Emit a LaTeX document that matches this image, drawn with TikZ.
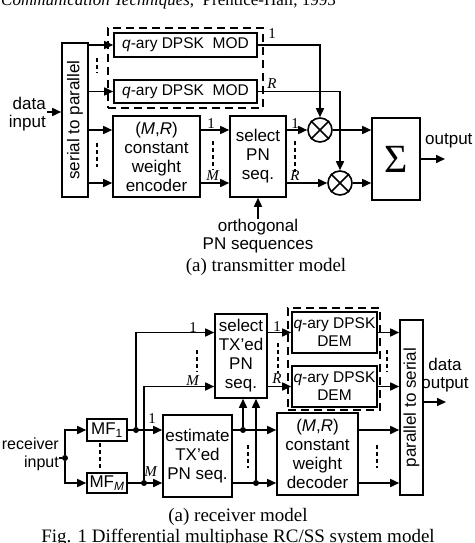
\documentclass[tikz,border=0pt]{standalone}
\usepackage{fontspec}
\setmainfont{Liberation Serif}
\setsansfont{Liberation Sans}
\usetikzlibrary{arrows.meta}
\begin{document}
\begin{tikzpicture}[x=1pt,y=-1pt,
  box/.style={draw,line width=1.6pt,font=\sffamily\fontsize{17}{19}\selectfont,align=center,inner sep=0pt},
  qbox/.style={box,font=\sffamily\fontsize{15.5}{18}\selectfont},
  txt/.style={font=\sffamily\fontsize{17}{18}\selectfont,align=center,inner sep=0pt},
  arr/.style={line width=1.6pt,-{Triangle[length=9pt,width=8pt]}},
  ln/.style={line width=1.6pt},
  dots/.style={line width=1.1pt,dash pattern=on 4pt off 3pt},
  grp/.style={draw,line width=1.6pt,dash pattern=on 8pt off 5pt,inner sep=0pt},
  lab/.style={font=\rmfamily\fontsize{15}{15}\selectfont,inner sep=0pt},
  captxt/.style={font=\rmfamily\fontsize{19}{19}\selectfont,inner sep=0pt},
  jdot/.style={circle,fill,inner sep=0pt,minimum size=6pt},
  mult/.style={draw,circle,line width=1.6pt,minimum size=24pt,inner sep=0pt}
]
\useasboundingbox (0,0) rectangle (474,543);

% header (cut off at top)
\node[anchor=base west,font=\rmfamily\fontsize{17}{17}\selectfont,inner sep=0pt] (hdr) at (1,6)
  {\textit{Communication Techniques},\ \ Prentice-Hall, 1993};

% ================= transmitter =================
\node[box,minimum width=26,minimum height=154] (s2p) at (75,120) {};
\node[txt,rotate=90] (s2pt) at (s2p.center) {serial to parallel};
\node[qbox,minimum width=143,minimum height=24] (mod1) at (185.5,45) {\textit{q}-ary DPSK\ \ MOD};
\node[qbox,minimum width=143,minimum height=23] (mod2) at (185.5,91.5) {\textit{q}-ary DPSK\ \ MOD};
\node[grp,minimum width=155,minimum height=80] (modgrp) at (185.5,68) {};
\node[box,minimum width=87,minimum height=81] (enc) at (156.5,156.5) {(\textit{M},\textit{R})\\constant\\weight\\encoder};
\node[box,minimum width=56,minimum height=81] (sel) at (258,156.5) {select\\PN\\seq.};
\node[mult] (m1) at (320,130) {};
\node[mult] (m2) at (340,183) {};
\node[box,minimum width=48,minimum height=82] (sum) at (396,159) {\rmfamily\fontsize{40}{40}\selectfont Σ};

\draw[ln] (m1.north east) -- (m1.south west) (m1.north west) -- (m1.south east);
\draw[ln] (m2.north east) -- (m2.south west) (m2.north west) -- (m2.south east);

\node[txt,anchor=east,align=right] (din) at (46,114) {data\\input};
\coordinate (dinA) at (47,112);
\draw[arr] (dinA) -- (dinA -| s2p.west);

\draw[arr] (s2p.east |- mod1.west) -- (mod1.west);
\draw[arr] (s2p.east |- mod2.west) -- (mod2.west);
\draw[arr] (s2p.east |- m1) -- (enc.west |- m1);
\draw[arr] (s2p.east |- m2) -- (enc.west |- m2);
\draw[arr] (enc.east |- m1) -- (sel.west |- m1);
\draw[arr] (enc.east |- m2) -- (sel.west |- m2);
\draw[arr] (sel.east |- m1) -- (m1.west);
\draw[arr] (sel.east |- m2) -- (m2.west);
\draw[arr] (mod1.east) -| (m1.north);
\draw[arr] (mod2.east) -| (m2.north);
\draw[arr] (m1.east) -- (sum.west |- m1);
\draw[arr] (m2.east) -- (sum.west |- m2);
\coordinate (outA) at (445,159);
\draw[arr] (sum.east) -- (outA);
\node[txt,anchor=west] (outt) at (425,141) {output};

\draw[dots] (97,58) -- (97,73);
\draw[dots] (97,143) -- (97,167);
\draw[dots] (213,141) -- (213,170);
\draw[dots] (295,141) -- (295,172);

\node[lab] (t1a) at (272,34) {1};
\node[lab] (tRa) at (272,84) {\textit{R}};
\node[lab] (t1b) at (211,124) {1};
\node[lab] (tMb) at (213,176) {\textit{M}};
\node[lab] (t1c) at (295,124) {1};
\node[lab] (tRc) at (295,176) {\textit{R}};

\node[txt] (orth) at (258,236) {orthogonal\\PN sequences};
\draw[arr] (orth.north) -- (sel.south);

\node[captxt] (capT) at (266,267) {(a) transmitter model};

% ================= receiver =================
\node[box,minimum width=52,minimum height=84] (stx) at (241,356) {select\\TX'ed\\PN\\seq.};
\node[qbox,minimum width=85,minimum height=41] (dem1) at (334.5,332.5) {\textit{q}-ary DPSK\\DEM};
\node[qbox,minimum width=85,minimum height=41] (dem2) at (334.5,386.5) {\textit{q}-ary DPSK\\DEM};
\node[grp,minimum width=92,minimum height=102] (demgrp) at (334,359) {};
\node[box,minimum width=23,minimum height=175] (p2s) at (411.5,407.5) {};
\node[txt,rotate=90] (p2st) at (p2s.center) {parallel to serial};
\node[box,minimum width=69,minimum height=82] (est) at (197.5,456) {estimate\\TX'ed\\PN seq.};
\node[box,minimum width=81,minimum height=82] (dec) at (317.5,454) {(\textit{M},\textit{R})\\constant\\weight\\decoder};
\node[box,minimum width=40,minimum height=22] (mf1) at (107,430) {MF\textsubscript{1}};
\node[box,minimum width=40,minimum height=20] (mfM) at (107,483) {MF\textsubscript{\textit{M}}};

\node[txt,anchor=east,align=right,font=\sffamily\fontsize{16}{18}\selectfont] (rin) at (59,454) {receiver\\input};
\node[jdot] (jr) at (65,458) {};
\draw[ln] (rin.east |- jr) -- (jr);
\draw[arr] (jr) |- (mf1.west);
\draw[arr] (jr) |- (mfM.west);

\node[jdot] (j1) at (136,430) {};
\node[jdot] (jM) at (144,483) {};
\draw[arr] (mf1.east) -- (est.west |- mf1.east);
\draw[arr] (mfM.east) -- (est.west |- mfM.east);
\draw[arr] (j1) |- (stx.west |- dem1);
\draw[arr] (jM) |- (stx.west |- dem2);

\draw[arr] (stx.east |- dem1) -- (dem1.west);
\draw[arr] (stx.east |- dem2) -- (dem2.west);
\draw[arr] (dem1.east) -- (p2s.west |- dem1);
\draw[arr] (dem2.east) -- (p2s.west |- dem2);

\node[jdot] (k1) at (243,430) {};
\node[jdot] (kM) at (256,483) {};
\draw[arr] (est.east |- k1) -- (dec.west |- k1);
\draw[arr] (est.east |- kM) -- (dec.west |- kM);
\draw[arr] (k1) -- (stx.south -| k1);
\draw[arr] (kM) -- (stx.south -| kM);
\draw[arr] (dec.east |- k1) -- (p2s.west |- k1);
\draw[arr] (dec.east |- kM) -- (p2s.west |- kM);

\coordinate (dout) at (446,402);
\draw[arr] (p2s.east |- dout) -- (dout);
\node[txt] (doutt) at (445,375) {data\\output};

\draw[dots] (100,443) -- (100,469);
\draw[dots] (197,350) -- (197,372);
\draw[dots] (248,445) -- (248,468);
\draw[dots] (377,445) -- (377,468);
\draw[dots] (278,343) -- (278,373);
\draw[dots] (387,350) -- (387,372);

\node[lab] (r1a) at (193,328) {1};
\node[lab] (rMa) at (193,381) {\textit{M}};
\node[lab] (r1b) at (152,419) {1};
\node[lab] (rMb) at (151,472) {\textit{M}};
\node[lab] (r1c) at (277,327) {1};
\node[lab] (rRc) at (277,379) {\textit{R}};

\node[captxt] (capR) at (238,517) {(a) receiver model};
\node[captxt] (fig) at (238,538) {Fig. 1 Differential multiphase RC/SS system model};
\end{tikzpicture}
\end{document}
